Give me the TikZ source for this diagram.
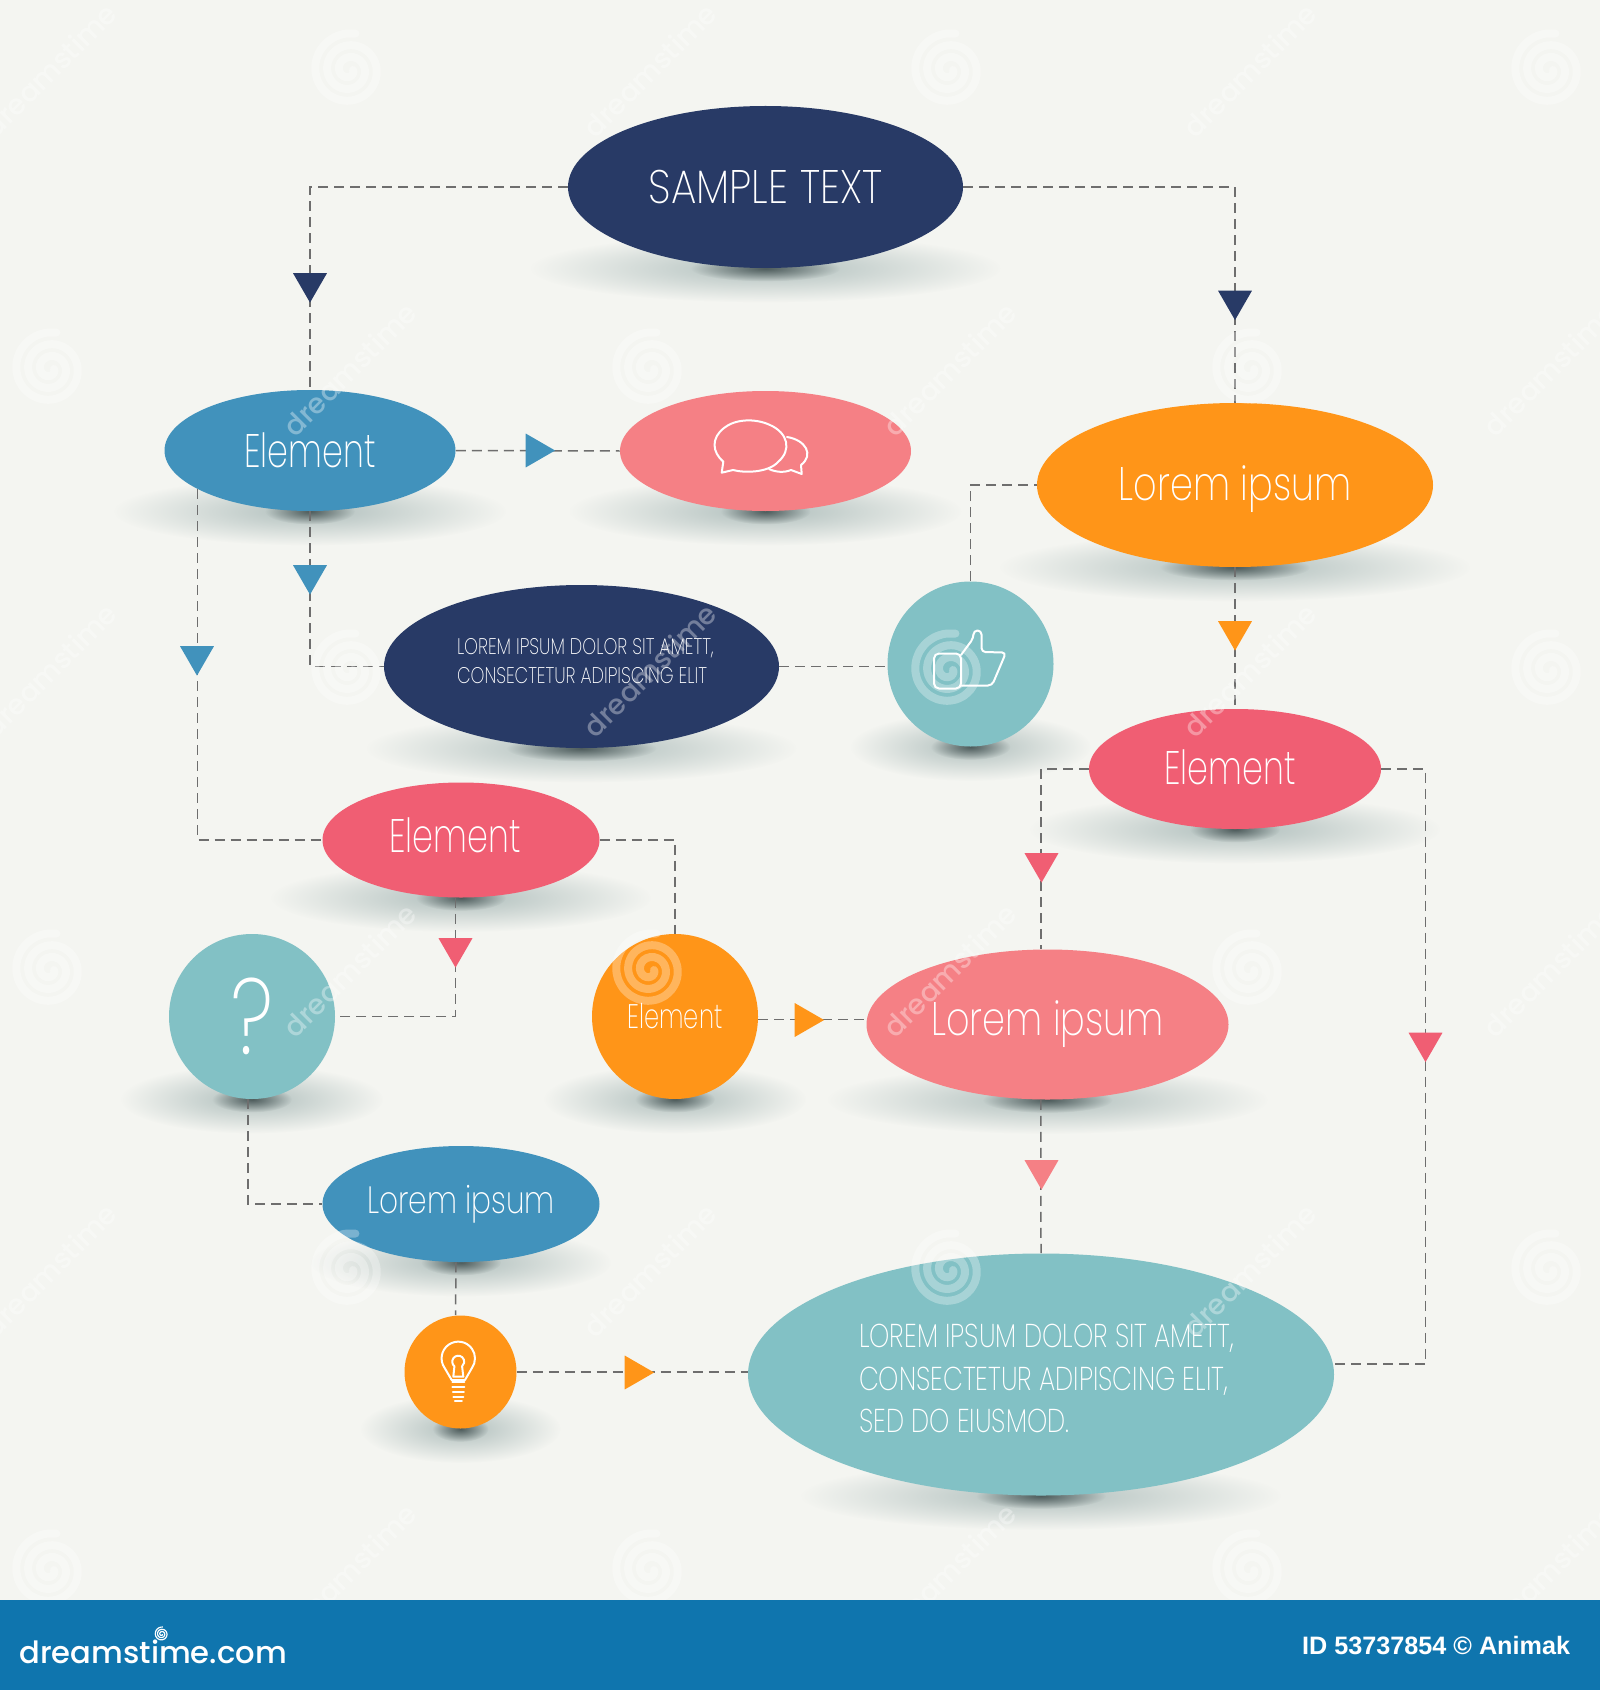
\documentclass[tikz,border=0pt]{standalone}
\usepackage{fontspec}
\usetikzlibrary{shapes.geometric, fadings}
\newfontfamily\thinfont[FakeStretch=0.78]{Poppins ExtraLight}
\newfontfamily\elemfont[FakeStretch=0.71]{Poppins ExtraLight}
\newfontfamily\headfont[FakeStretch=0.86]{Poppins ExtraLight}
\newfontfamily\logofont{Poppins Medium}
\newfontfamily\idfont{Liberation Sans}

\definecolor{paper}{HTML}{F4F5F1}
\definecolor{navy}{HTML}{283A66}
\definecolor{sky}{HTML}{4192BC}
\definecolor{rose}{HTML}{F58085}
\definecolor{berry}{HTML}{F05E73}
\definecolor{amber}{HTML}{FF9518}
\definecolor{aqua}{HTML}{82C1C5}
\definecolor{banner}{HTML}{0F75AE}
\definecolor{dashgrey}{HTML}{6E6E6E}
\definecolor{softgrey}{HTML}{B0BFBD}
\definecolor{coregrey}{HTML}{4E5C5C}

\pgfdeclarelayer{background}
\pgfsetlayers{background,main}
\tikzfading[name=softblob, inner color=transparent!0, outer color=transparent!100]

\tikzset{
    x=0.5pt, y=-0.5pt,
    blob/.style n args={3}{ellipse, fill=#1, minimum width=#2*0.5pt, minimum height=#3*0.5pt, inner sep=0pt, text=white, font=\thinfont\fontsize{23.5}{28}\selectfont},
    elemtext/.style={font=\elemfont\fontsize{#1}{#1}\selectfont},
    bodytext/.style={white, anchor=west, align=left, inner sep=0pt},
    link/.style={dashgrey, line width=0.75pt, dash pattern=on 5pt off 3pt},
    downtip/.style={regular polygon, regular polygon sides=3, shape border rotate=180, fill=#1, minimum size=19.6pt, inner sep=0pt, outer sep=0pt},
    righttip/.style={regular polygon, regular polygon sides=3, shape border rotate=-90, fill=#1, minimum size=19.6pt, inner sep=0pt, outer sep=0pt},
    iconline/.style={white, line width=1pt, line join=round, line cap=round},
    watermark/.style={white, opacity=0.35, rotate=45, font=\logofont\fontsize{14}{14}\selectfont},
    swirl ink/.style={white, line width=4pt, line cap=round, opacity=0.3},
    swirl/.pic={\draw[swirl ink] plot[smooth, domain=0:1000, samples=60, variable=\t] ({(4+0.033*\t)*cos(\t)}, {(4+0.033*\t)*sin(\t)});}
}

% wide soft shadow and small dark core under a node
\newcommand{\dropshadow}[3]{
    \begin{pgfonlayer}{background}
        \fill[softgrey, path fading=softblob] (#1.south) ellipse [x radius=#2, y radius=34];
        \fill[coregrey, path fading=softblob] (#1.south) ellipse [x radius=#3, y radius=13];
    \end{pgfonlayer}
}

\begin{document}
\begin{tikzpicture}
    \useasboundingbox (0, 0) rectangle (1600, 1690);
    \begin{pgfonlayer}{background}
        \fill[paper] (0, 0) rectangle (1600, 1690);
    \end{pgfonlayer}

    \node[blob={navy}{395}{162}, font=\headfont\fontsize{23.5}{28}\selectfont] (title) at (765.5, 187) {SAMPLE\hspace{6pt}TEXT};
    \node[blob={sky}{291}{121}, elemtext=23.5] (eltA) at (310, 450.5) {Element};
    \node[blob={rose}{291}{120}] (chat) at (765.5, 451) {};
    \node[blob={navy}{395}{163}] (navyT) at (581.5, 666.5) {};
    \node[blob={berry}{277}{115}, elemtext=23.5] (redL) at (461, 840) {\raisebox{4.5pt}{Element}\kern6pt};
    \node[blob={amber}{396}{164}] (orange) at (1235, 485) {\raisebox{0pt}[15.8pt][0pt]{Lorem ipsum}};
    \node[blob={aqua}{166}{165}] (thumb) at (970.5, 664) {};
    \node[blob={berry}{292}{120}, elemtext=23.5] (eltC) at (1235, 769) {\raisebox{1.5pt}{Element}\kern5pt};
    \node[blob={aqua}{166}{165}, font=\thinfont\fontsize{54}{54}\selectfont] (quest) at (252, 1016.5) {?};
    \node[blob={amber}{166}{165}, elemtext=17] (orangeC) at (675, 1016.5) {Element};
    \node[blob={rose}{362}{150}] (pinkL) at (1047.5, 1024.5) {Lorem ipsum};
    \node[blob={sky}{277}{116}, font=\thinfont\fontsize{19}{23}\selectfont] (blueL) at (461, 1204) {Lorem ipsum};
    \node[blob={amber}{112}{113}] (bulb) at (460.5, 1372) {};
    \node[blob={aqua}{586}{242}] (bigT) at (1041, 1374.5) {};
    \node[bodytext, font=\thinfont\fontsize{11.3}{14.5}\selectfont] (navyLines) at (456.6, 661.5) {LOREM IPSUM DOLOR SIT AMETT,\\CONSECTETUR ADIPISCING ELIT};
    \node[bodytext, font=\thinfont\fontsize{16.5}{21.25}\selectfont] (bigLines) at (858.7, 1378.5) {LOREM IPSUM DOLOR SIT AMETT,\\CONSECTETUR ADIPISCING ELIT,\\SED DO EIUSMOD.};

    \dropshadow{title}{235}{75}
    \dropshadow{eltA}{196}{45}
    \dropshadow{chat}{196}{45}
    \dropshadow{navyT}{215}{75}
    \dropshadow{redL}{190}{45}
    \dropshadow{orange}{235}{75}
    \dropshadow{thumb}{120}{40}
    \dropshadow{eltC}{205}{45}
    \dropshadow{quest}{131}{40}
    \dropshadow{orangeC}{131}{40}
    \dropshadow{pinkL}{220}{65}
    \dropshadow{blueL}{150}{40}
    \dropshadow{bulb}{100}{28}
    \dropshadow{bigT}{240}{65}

    \coordinate (kneeB) at (197.5, 489);
    \coordinate (kneeC) at (1425.5, 1364);
    \draw[link] (title.west) -| (eltA.north);
    \draw[link] (title.east) -| (orange.north);
    \draw[link] (eltA.east) -- (chat.west);
    \draw[link] (eltA.south) |- (navyT.west);
    \draw[link] (kneeB) |- (redL.west);
    \draw[link] (navyT.east) -- (navyT.east -| thumb.west);
    \draw[link] (thumb.north) |- (orange.west);
    \draw[link] (orange.south) -- (eltC.north);
    \draw[link] (eltC.west) -| ([xshift=-3.35pt]pinkL.north);
    \draw[link] (eltC.east) -| (kneeC) -- (kneeC -| bigT.east);
    \draw[link] (redL.east) -| (orangeC.north);
    \draw[link] ([xshift=-2.75pt]redL.south) |- (quest.east);
    \draw[link] ([xshift=-2pt]quest.south) |- (blueL.west);
    \draw[link] ([xshift=-2.5pt]blueL.south) -- ([xshift=-2.5pt]bulb.north);
    \draw[link] (bulb.east) -- (bulb.east -| bigT.west);
    \draw[link] ([yshift=-1.5pt]orangeC.east) -- ([yshift=-1.5pt]orangeC.east -| pinkL.west);
    \draw[link] ([xshift=-3.35pt]pinkL.south) -- (bigT.north);

    \node[downtip=navy] (tipA) at (310, 283) {};
    \node[downtip=navy] (tipB) at (1235, 300.5) {};
    \node[righttip=sky] (tipC) at (535.5, 450.5) {};
    \node[downtip=sky] (tipD) at (310, 575) {};
    \node[downtip=sky] (tipE) at (197, 656) {};
    \node[downtip=amber] (tipF) at (1235, 631) {};
    \node[downtip=berry] (tipG) at (1041.5, 863) {};
    \node[downtip=berry] (tipH) at (1425.5, 1042.5) {};
    \node[downtip=berry] (tipI) at (455.5, 948) {};
    \node[righttip=amber] (tipJ) at (804.5, 1020) {};
    \node[downtip=rose] (tipK) at (1041.5, 1170) {};
    \node[righttip=amber] (tipL) at (634.5, 1372.5) {};

    % speech bubbles
    \draw[iconline] (723.3, 461.7) -- (721.7, 472.7) -- (733, 470) .. controls (744, 473) and (768, 473) .. (778, 462) .. controls (792, 450) and (788, 433) .. (770, 425) .. controls (755, 418) and (735, 419) .. (724, 428) .. controls (711, 438) and (712, 452) .. (723.3, 461.7) -- cycle;
    \draw[iconline] (787, 437) .. controls (806, 440) and (814, 455) .. (801, 465) -- (801.7, 474) -- (791, 470) .. controls (784, 473) and (775, 472) .. (769, 469);
    % thumb
    \draw[iconline, rounded corners=2.5pt] (934, 653.5) rectangle (961, 688.5);
    \draw[iconline, rounded corners=2pt] (961, 655) -- (973.5, 638) -- (973.5, 630.5) -- (981.5, 630.5) -- (981.5, 652) -- (1006, 652.5) -- (992, 685.5) -- (961, 685.5);
    % bulb
    \draw[iconline] (451.7, 1380) -- (444.6, 1367.9) arc (145:395:16.7) -- (465, 1380) -- cycle;
    \draw[iconline] (453.3, 1376.7) -- (454.4, 1366.3) arc (130:410:6) -- (463.3, 1376.7) -- cycle;
    \foreach \by/\bw in {1381.7/6, 1386.7/6, 1391.7/5.5, 1396.7/5, 1401/3.5}
        \draw[iconline] (458.3-\bw, \by) -- (458.3+\bw, \by);

    \foreach \wy/\wt/\ws in {70/50/349, 369/350/50, 670/50/349, 970/350/50, 1270/50/349, 1570/350/50}
        \foreach \k in {0, 1, 2} {
            \node[watermark] (wm-\wy-\k) at (\wt+600*\k, \wy) {dreamstime};
            \pic at (\ws+600*\k, \wy) {swirl};
        }

    \fill[banner] (0, 1599.5) rectangle (1600, 1690);
    \node[white, font=\logofont\fontsize{15.3}{16}\selectfont, anchor=west, inner sep=0pt] (logo) at (19, 1652) {dreamstime.com};
    \pic[swirl ink/.style={white, line width=0.6pt}, scale=0.19] at (161.7, 1634) {swirl};
    \node[white, font=\idfont\bfseries\fontsize{12.6}{14}\selectfont, anchor=east, inner sep=0pt] (idnum) at (1570.5, 1645) {ID 53737854 © Animak};
\end{tikzpicture}
\end{document}
